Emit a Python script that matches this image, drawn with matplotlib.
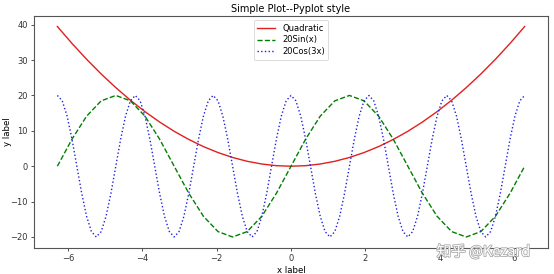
import matplotlib
matplotlib.use("Agg")
import matplotlib.pyplot as plt
import matplotlib.patheffects as pe

# Coarse grid (step ~pi/8) for the quadratic and sine curves
x_coarse = [-6.283, -5.890, -5.498, -5.105, -4.712, -4.320, -3.927, -3.534,
            -3.142, -2.749, -2.356, -1.963, -1.571, -1.178, -0.785, -0.393,
            0.000, 0.393, 0.785, 1.178, 1.571, 1.963, 2.356, 2.749,
            3.142, 3.534, 3.927, 4.320, 4.712, 5.105, 5.498, 5.890, 6.283]
quadratic = [39.48, 34.70, 30.23, 26.06, 22.21, 18.66, 15.42, 12.49,
             9.87, 7.56, 5.55, 3.86, 2.47, 1.39, 0.62, 0.15,
             0.00, 0.15, 0.62, 1.39, 2.47, 3.86, 5.55, 7.56,
             9.87, 12.49, 15.42, 18.66, 22.21, 26.06, 30.23, 34.70, 39.48]
sin20 = [0.0, 7.65, 14.14, 18.48, 20.0, 18.48, 14.14, 7.65,
         0.0, -7.65, -14.14, -18.48, -20.0, -18.48, -14.14, -7.65,
         0.0, 7.65, 14.14, 18.48, 20.0, 18.48, 14.14, 7.65,
         0.0, -7.65, -14.14, -18.48, -20.0, -18.48, -14.14, -7.65, 0.0]

# Fine grid (step ~pi/24) for the 20cos(3x) curve
x_fine = [-6.283, -6.152, -6.021, -5.890, -5.760, -5.629, -5.498, -5.367,
          -5.236, -5.105, -4.974, -4.843, -4.712, -4.581, -4.451, -4.320,
          -4.189, -4.058, -3.927, -3.796, -3.665, -3.534, -3.403, -3.272,
          -3.142, -3.011, -2.880, -2.749, -2.618, -2.487, -2.356, -2.225,
          -2.094, -1.963, -1.833, -1.702, -1.571, -1.440, -1.309, -1.178,
          -1.047, -0.916, -0.785, -0.654, -0.524, -0.393, -0.262, -0.131,
          0.000, 0.131, 0.262, 0.393, 0.524, 0.654, 0.785, 0.916,
          1.047, 1.178, 1.309, 1.440, 1.571, 1.702, 1.833, 1.963,
          2.094, 2.225, 2.356, 2.487, 2.618, 2.749, 2.880, 3.011,
          3.142, 3.272, 3.403, 3.534, 3.665, 3.796, 3.927, 4.058,
          4.189, 4.320, 4.451, 4.581, 4.712, 4.843, 4.974, 5.105,
          5.236, 5.367, 5.498, 5.629, 5.760, 5.890, 6.021, 6.152, 6.283]
cos3x20 = [20.0, 18.48, 14.14, 7.65, 0.0, -7.65, -14.14, -18.48,
           -20.0, -18.48, -14.14, -7.65, 0.0, 7.65, 14.14, 18.48,
           20.0, 18.48, 14.14, 7.65, 0.0, -7.65, -14.14, -18.48,
           -20.0, -18.48, -14.14, -7.65, 0.0, 7.65, 14.14, 18.48,
           20.0, 18.48, 14.14, 7.65, 0.0, -7.65, -14.14, -18.48,
           -20.0, -18.48, -14.14, -7.65, 0.0, 7.65, 14.14, 18.48,
           20.0, 18.48, 14.14, 7.65, 0.0, -7.65, -14.14, -18.48,
           -20.0, -18.48, -14.14, -7.65, 0.0, 7.65, 14.14, 18.48,
           20.0, 18.48, 14.14, 7.65, 0.0, -7.65, -14.14, -18.48,
           -20.0, -18.48, -14.14, -7.65, 0.0, 7.65, 14.14, 18.48,
           20.0, 18.48, 14.14, 7.65, 0.0, -7.65, -14.14, -18.48,
           -20.0, -18.48, -14.14, -7.65, 0.0, 7.65, 14.14, 18.48, 20.0]

title = "Simple Plot--Pyplot style"
labels = ["Quadratic", "20Sin(x)", "20Cos(3x)"]

fig = plt.figure(figsize=(5.54, 2.74), dpi=100)
ax = fig.add_axes([0.0614, 0.0967, 0.9278, 0.8449])

ax.plot(x_coarse, quadratic, color="#e02020", lw=1.0, label=labels[0])
ax.plot(x_coarse, sin20, color="#008000", ls="--", lw=1.0, label=labels[1])
ax.plot(x_fine, cos3x20, color="#2020e0", ls=":", lw=1.0, label=labels[2])

ax.set_title(title, fontsize=7, pad=3)
ax.set_xlabel("x label", fontsize=6.2, labelpad=2)
ax.set_ylabel("y label", fontsize=6.2)
ax.yaxis.set_label_coords(-0.043, 0.5)
ax.set_xticks([-6, -4, -2, 0, 2, 4, 6])
ax.set_yticks([-20, -10, 0, 10, 20, 30, 40])
ax.tick_params(labelsize=6, length=2.5, width=0.6, pad=2, colors="#333333")
for s in ax.spines.values():
    s.set_color("#555555")
    s.set_linewidth(0.8)

leg = ax.legend(loc="upper center", fontsize=6, handlelength=2.2,
                borderpad=0.4, labelspacing=0.35, frameon=True)
leg.get_frame().set_linewidth(0.6)

fig.text(0.873, 0.08, "知乎 @Kezard", fontsize=10.5, color="white",
         ha="center", va="center",
         family=["Noto Sans CJK SC", "DejaVu Sans"],
         path_effects=[pe.withStroke(linewidth=1.2, foreground="#aaaaaa")])

fig.savefig("out.png", dpi=100)
